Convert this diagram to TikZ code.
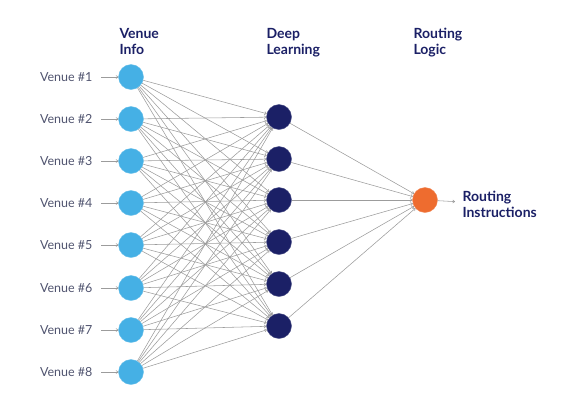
\documentclass[tikz,border=0pt]{standalone}
\usepackage{fontspec}
\setmainfont{Lato}
\usetikzlibrary{arrows.meta}
\definecolor{venueblue}{HTML}{45B0E5}
\definecolor{deepnavy}{HTML}{1B2066}
\definecolor{routeorange}{HTML}{EE6C2F}
\definecolor{labelgray}{HTML}{50546F}
\definecolor{wiregray}{HTML}{9C9C9C}
\tikzset{
  venue/.style={circle,fill=venueblue,draw=venueblue!80!white,minimum size=25pt,inner sep=0pt},
  hidden/.style={circle,fill=deepnavy,draw=deepnavy!80!white,minimum size=25pt,inner sep=0pt},
  router/.style={circle,fill=routeorange,draw=routeorange!80!white,minimum size=25pt,inner sep=0pt},
  venuelabel/.style={anchor=east,text=labelgray,font=\fontsize{12.5}{14}\selectfont},
  header/.style={anchor=north west,align=left,text=deepnavy,font=\bfseries\fontsize{14}{16}\selectfont},
  wire/.style={draw=wiregray,line width=0.55pt,-{To[length=2.5pt,width=3.5pt]}},
}
\begin{document}
\begin{tikzpicture}[x=1pt,y=-1pt]
  \useasboundingbox (0,0) rectangle (580,410);
  % layer headers
  \node[header] (hv) at (116,25) {Venue\\Info};
  \node[header] (hd) at (263,25) {Deep\\Learning};
  \node[header] (hr) at (410,25) {Routing\\Logic};
  % input layer
  \foreach \i/\y in {1/77,2/119,3/161,4/203,5/245,6/288,7/330,8/372} {
    \node[venue] (v\i) at (131,\y) {};
    \node[venuelabel] (l\i) at (96,\y) {Venue \#\i};
  }
  % hidden layer
  \foreach \j/\y in {1/117,2/159,3/200,4/242,5/284,6/326}
    \node[hidden] (h\j) at (279,\y) {};
  % output
  \node[router] (r) at (425,200) {};
  \node[anchor=west,align=left,text=deepnavy,font=\bfseries\fontsize{14}{16}\selectfont] (ri) at (459,204) {Routing\\Instructions};
  \begin{scope}[wire]
    \foreach \i in {1,...,8}
      \draw[shorten <=5pt] (l\i) -- (v\i);
    \foreach \i in {1,...,8}
      \foreach \j in {1,...,6}
        \draw (v\i) -- (h\j);
    \foreach \j in {1,...,6}
      \draw (h\j) -- (r);
    \draw[shorten >=4pt] (r) -- (ri);
  \end{scope}
\end{tikzpicture}
\end{document}
